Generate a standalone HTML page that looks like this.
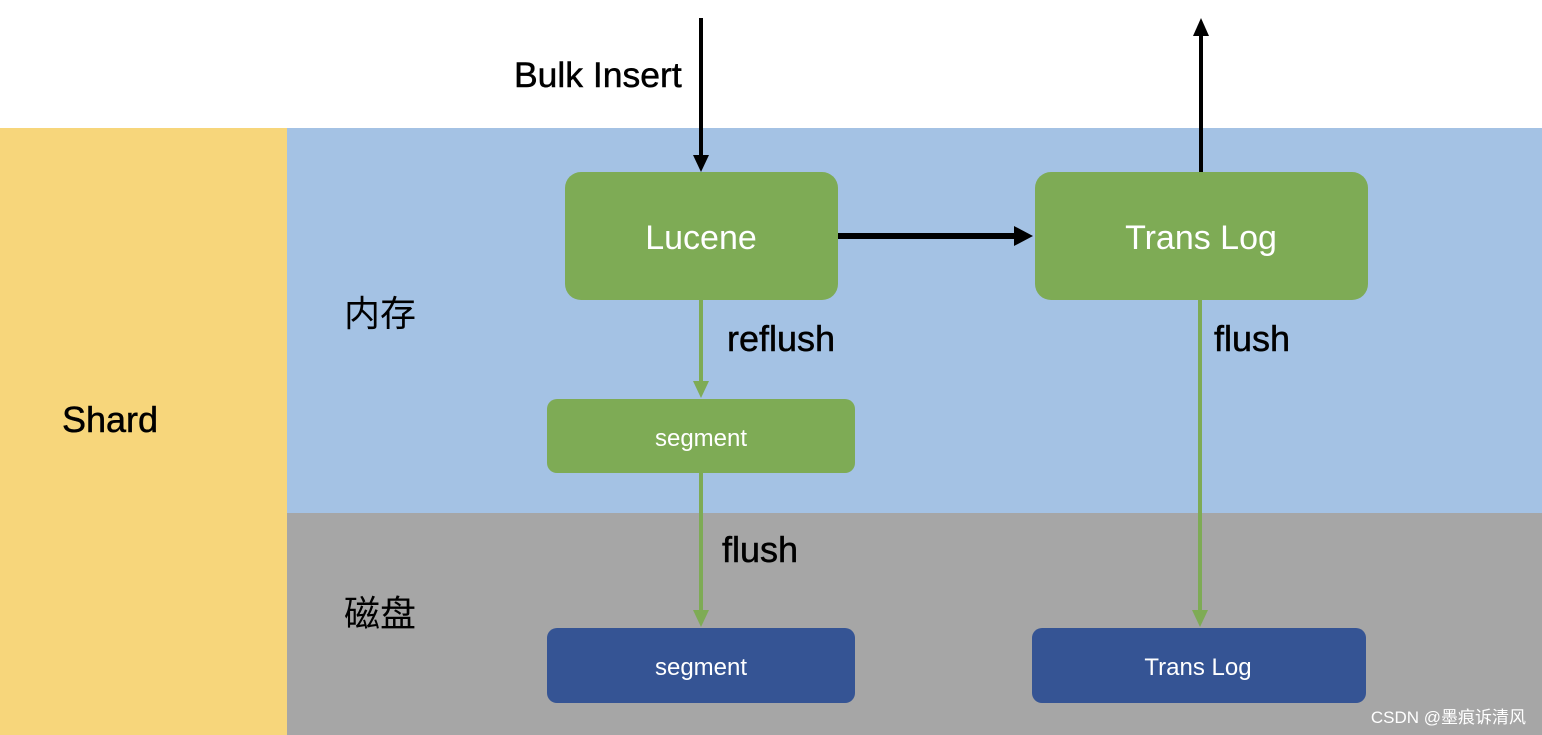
<!DOCTYPE html>
<html><head><meta charset="utf-8"><style>
html,body{margin:0;padding:0;background:#fff}
svg{display:block}
text{font-family:"Liberation Sans","Noto Sans CJK SC",sans-serif}
</style></head><body>
<svg width="1542" height="735" viewBox="0 0 1542 735" xmlns="http://www.w3.org/2000/svg">
<rect x="0" y="0" width="1542" height="735" fill="#fff"/>
<rect x="0" y="128" width="287" height="607" fill="#f7d67b"/>
<rect x="287" y="128" width="1255" height="385" fill="#a4c2e4"/>
<rect x="287" y="513" width="1255" height="222" fill="#a6a6a6"/>
<text x="110" y="432" font-size="36" text-anchor="middle" fill="#000" stroke="#000" stroke-width="0.5">Shard</text>
<text x="380" y="326" font-size="36" text-anchor="middle" fill="#000">内存</text>
<text x="380" y="626" font-size="36" text-anchor="middle" fill="#000">磁盘</text>
<rect x="565" y="172" width="273" height="128" rx="16" fill="#7eab55"/>
<rect x="1035" y="172" width="333" height="128" rx="16" fill="#7eab55"/>
<rect x="547" y="399" width="308" height="74" rx="10" fill="#7eab55"/>
<rect x="547" y="628" width="308" height="75" rx="10" fill="#355494"/>
<rect x="1032" y="628" width="334" height="75" rx="10" fill="#355494"/>
<text x="701" y="249" font-size="34" text-anchor="middle" fill="#fff">Lucene</text>
<text x="1201" y="249" font-size="34" text-anchor="middle" fill="#fff">Trans Log</text>
<text x="701" y="446" font-size="24" text-anchor="middle" fill="#fff">segment</text>
<text x="701" y="675" font-size="24" text-anchor="middle" fill="#fff">segment</text>
<text x="1198" y="675" font-size="24" text-anchor="middle" fill="#fff">Trans Log</text>
<line x1="701" y1="18" x2="701" y2="158" stroke="#000" stroke-width="4"/>
<polygon points="693,155 709,155 701,172" fill="#000"/>
<line x1="1201" y1="172" x2="1201" y2="32" stroke="#000" stroke-width="4"/>
<polygon points="1193,36 1209,36 1201,18" fill="#000"/>
<line x1="838" y1="236" x2="1018" y2="236" stroke="#000" stroke-width="6"/>
<polygon points="1014,226 1014,246 1033,236" fill="#000"/>
<text x="514" y="87" font-size="35.5" fill="#000" stroke="#000" stroke-width="0.5">Bulk Insert</text>
<line x1="701" y1="300" x2="701" y2="386" stroke="#7eab55" stroke-width="4"/>
<polygon points="693,381 709,381 701,398" fill="#7eab55"/>
<line x1="701" y1="473" x2="701" y2="614" stroke="#7eab55" stroke-width="4"/>
<polygon points="693,610 709,610 701,627" fill="#7eab55"/>
<line x1="1200" y1="300" x2="1200" y2="614" stroke="#7eab55" stroke-width="4"/>
<polygon points="1192,610 1208,610 1200,627" fill="#7eab55"/>
<text x="727" y="351" font-size="36" fill="#000" stroke="#000" stroke-width="0.5">reflush</text>
<text x="1214" y="351" font-size="36" fill="#000" stroke="#000" stroke-width="0.5">flush</text>
<text x="722" y="562" font-size="36" fill="#000" stroke="#000" stroke-width="0.5">flush</text>
<text x="1526" y="723" font-size="17" text-anchor="end" fill="#fff">CSDN @墨痕诉清风</text>
</svg>
</body></html>
